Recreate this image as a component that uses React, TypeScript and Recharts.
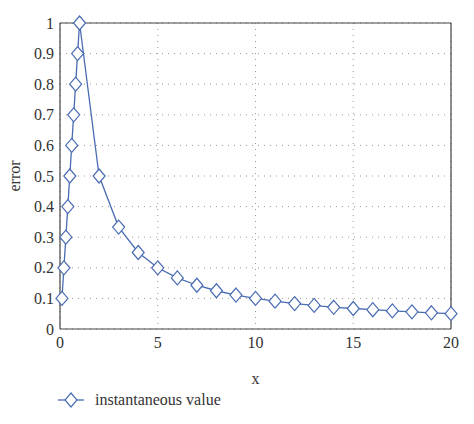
import { LineChart, Line, XAxis, YAxis, CartesianGrid, ReferenceLine } from 'recharts'

const xValues = [0.1, 0.2, 0.3, 0.4, 0.5, 0.6, 0.7, 0.8, 0.9, 1, 2, 3, 4, 5, 6, 7, 8, 9, 10, 11, 12, 13, 14, 15, 16, 17, 18, 19, 20]
const errorValues = [
  0.1, 0.2, 0.3, 0.4, 0.5, 0.6, 0.7, 0.8, 0.9, 1, 0.5, 0.333, 0.25, 0.2, 0.167, 0.143, 0.125, 0.111, 0.1, 0.091,
  0.083, 0.077, 0.071, 0.067, 0.063, 0.059, 0.056, 0.053, 0.05,
]
const xTicks = [0, 5, 10, 15, 20]
const yTicks = [0, 0.1, 0.2, 0.3, 0.4, 0.5, 0.6, 0.7, 0.8, 0.9, 1]
const seriesName = 'instantaneous value'

const data = xValues.map((x, i) => ({ x, error: errorValues[i] }))

const BLUE = '#4a6cb3'
const AXIS = '#444'
const FONT = '"Liberation Serif", "DejaVu Serif", serif'

function Diamond(props: { cx?: number; cy?: number; index?: number }) {
  const { cx, cy, index } = props
  if (cx == null || cy == null) return null
  return (
    <path
      key={`d-${index}`}
      d={`M${cx},${cy - 7} L${cx + 6},${cy} L${cx},${cy + 7} L${cx - 6},${cy} Z`}
      fill="#fff"
      stroke={BLUE}
      strokeWidth={1.2}
    />
  )
}

// legend drawn outside the chart so it doesn't shrink the plot area
function LegendBox() {
  return (
    <div
      style={{
        position: 'absolute',
        left: 58,
        top: 391,
        display: 'flex',
        alignItems: 'center',
        fontFamily: FONT,
        fontSize: 16,
        color: '#333',
      }}
    >
      <svg width={28} height={16}>
        <line x1={0} y1={8} x2={26} y2={8} stroke={BLUE} strokeWidth={1.3} />
        <path d="M13,1 L19,8 L13,15 L7,8 Z" fill="#fff" stroke={BLUE} strokeWidth={1.2} />
      </svg>
      <span style={{ marginLeft: 9 }}>{seriesName}</span>
    </div>
  )
}

export default function App() {
  return (
    <div style={{ position: 'absolute', left: 0, top: 0, width: 474, height: 424, background: '#fff' }}>
      <LineChart width={474} height={424} data={data} margin={{ top: 23, right: 23, left: 0, bottom: 35 }}>
        <CartesianGrid stroke="#9a9a9a" strokeDasharray="1 5" />
        <XAxis
          dataKey="x"
          type="number"
          domain={[0, 20]}
          ticks={xTicks}
          height={60}
          tickLine={false}
          tickSize={6}
          tickMargin={2}
          axisLine={{ stroke: AXIS, strokeWidth: 1.2 }}
          tick={{ fontSize: 16, fill: '#333', fontFamily: FONT }}
          label={{ value: 'x', position: 'insideBottom', offset: 5, style: { fontSize: 16, fill: '#333', fontFamily: FONT } }}
        />
        <YAxis
          type="number"
          domain={[0, 1]}
          ticks={yTicks}
          width={60}
          tickLine={false}
          tickSize={4}
          tickMargin={2}
          axisLine={{ stroke: AXIS, strokeWidth: 1.2 }}
          tick={{ fontSize: 16, fill: '#333', fontFamily: FONT }}
          label={{
            value: 'error',
            angle: -90,
            position: 'insideLeft',
            offset: 14,
            style: { textAnchor: 'middle', fontSize: 16, fill: '#333', fontFamily: FONT },
          }}
        />
        <ReferenceLine y={1} stroke={AXIS} strokeWidth={1.2} />
        <ReferenceLine x={20} stroke={AXIS} strokeWidth={1.2} />
        <Line
          type="linear"
          dataKey="error"
          name={seriesName}
          stroke={BLUE}
          strokeWidth={1.3}
          dot={<Diamond />}
          isAnimationActive={false}
        />
      </LineChart>
      <LegendBox />
    </div>
  )
}
